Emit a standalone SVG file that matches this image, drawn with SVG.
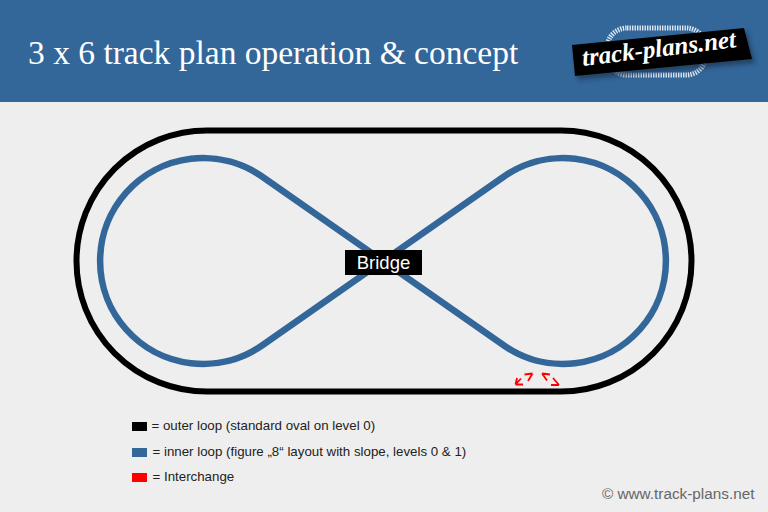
<svg xmlns="http://www.w3.org/2000/svg" width="768" height="512" viewBox="0 0 768 512">
<style>
.legend{font-family:"Liberation Sans",Arial,sans-serif;font-size:13.3px;fill:#222}
.red{fill:none;stroke:#f00;stroke-width:1.8}
</style>
<defs>
<filter id="sh" x="-10%" y="-30%" width="120%" height="160%"><feGaussianBlur stdDeviation="2"/></filter>
</defs>
<rect width="768" height="512" fill="#eeeeee"/>
<rect id="header" width="768" height="102" fill="#336699"/>
<text x="28" y="64" font-family="'Liberation Serif','Times New Roman',serif" font-size="33.500" fill="#fff">3 x 6 track plan operation &amp; concept</text>
<g id="logo">
<rect x="607" y="28" width="99" height="47" rx="20" fill="none" stroke="#dfe8f2" stroke-width="5" stroke-dasharray="1.4 1.1"/>
<polygon points="575,49 747,32 755,63 578,80" fill="#1d3550" opacity=".7" filter="url(#sh)"/>
<polygon points="572,45 744,28 752,59 575,76" fill="#000"/>
<text x="0" y="0" transform="translate(583,66) rotate(-7)" font-family="'Liberation Serif',serif" font-style="italic" font-weight="bold" font-size="25" fill="#fff">track-plans.net</text>
</g>
<g id="connectors" fill="none">
<rect id="outer-loop" x="76.500" y="130.500" width="615" height="261" rx="130.500" ry="130.500" stroke="#000" stroke-width="6"/>
<path id="inner-loop" d="M262 176.500L504 345.500A103 103 0 1 0 504 176.500L262 345.500A103 103 0 1 1 262 176.500Z" stroke="#336699" stroke-width="6.500"/>
</g>
<g id="interchange">
<path class="red" d="M515.500 384.500L521 378.500M515.500 384.500L523 384.500M515.500 384.500L517 378"/>
<path class="red" d="M532.500 373.500L528 381M532.500 373.500L524.500 374.500"/>
<path class="red" d="M542 373.500L547 380.500M542 373.500L550 374.500"/>
<path class="red" d="M559 385L553 378M559 385L551 385"/>
</g>
<g id="bridge">
<rect x="345" y="250" width="77" height="25" fill="#000"/>
<text x="383.500" y="269" text-anchor="middle" font-family="'Liberation Sans',Arial,sans-serif" font-size="18.500" fill="#fff">Bridge</text>
</g>
<g id="legend">
<rect x="132" y="422" width="15" height="9" fill="#000"/>
<text class="legend" x="151.500" y="430">= outer loop (standard oval on level 0)</text>
<rect x="132" y="448" width="15" height="9" fill="#336699"/>
<text class="legend" x="152.500" y="456">= inner loop (figure „8“ layout with slope, levels 0 &amp; 1)</text>
<rect x="132" y="473" width="15" height="9" fill="#f00"/>
<text class="legend" x="152.500" y="481">= Interchange</text>
</g>
<text x="602" y="499" font-family="'Liberation Sans',Arial,sans-serif" font-size="15.300" fill="#666">© www.track-plans.net</text>
</svg>
